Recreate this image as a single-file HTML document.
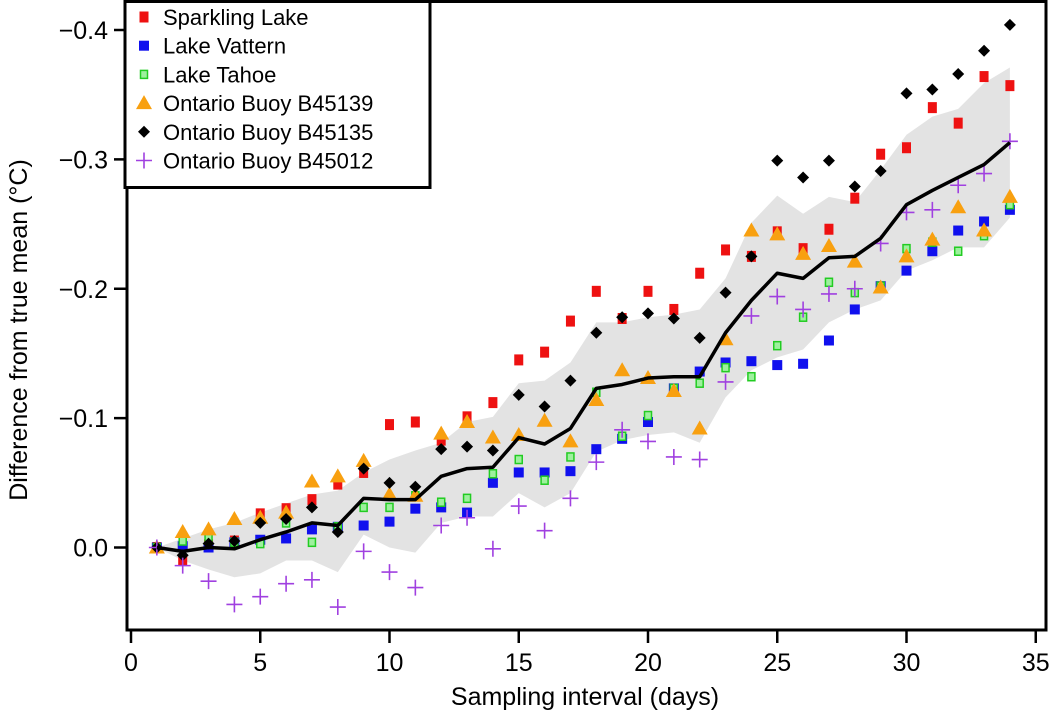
<!DOCTYPE html>
<html><head><meta charset="utf-8"><style>
body{margin:0;background:#fff}
svg{display:block;font-family:"Liberation Sans",sans-serif}
</style></head><body>
<svg id="chart" width="1050" height="721" viewBox="0 0 1050 721" xmlns="http://www.w3.org/2000/svg"></svg>
<script>
const days = Array.from({length:34},(_,i)=>i+1);
const xTicks = [0,5,10,15,20,25,30,35];
const yTicks = [0,-0.1,-0.2,-0.3,-0.4];
const yTickLabels = ["0.0","\u22120.1","\u22120.2","\u22120.3","\u22120.4"];
const sparkling = [0,0.010,-0.002,-0.005,-0.026,-0.030,-0.037,-0.049,-0.058,-0.095,-0.097,-0.083,-0.101,-0.112,-0.145,-0.151,-0.175,-0.198,-0.177,-0.198,-0.184,-0.212,-0.230,-0.225,-0.244,-0.231,-0.246,-0.270,-0.304,-0.309,-0.340,-0.328,-0.364,-0.357];
const vattern = [0,-0.001,0,-0.004,-0.006,-0.007,-0.014,-0.016,-0.017,-0.020,-0.030,-0.031,-0.027,-0.050,-0.058,-0.058,-0.059,-0.076,-0.084,-0.097,-0.123,-0.136,-0.143,-0.144,-0.141,-0.142,-0.160,-0.184,-0.202,-0.214,-0.229,-0.245,-0.252,-0.261];
const tahoe = [0,-0.005,-0.007,-0.004,-0.003,-0.019,-0.004,-0.016,-0.031,-0.031,-0.040,-0.035,-0.038,-0.057,-0.068,-0.052,-0.070,-0.120,-0.086,-0.102,-0.123,-0.127,-0.139,-0.132,-0.156,-0.178,-0.205,-0.197,-0.202,-0.231,-0.236,-0.229,-0.241,-0.265];
const b45139 = [0,-0.012,-0.014,-0.022,-0.023,-0.027,-0.051,-0.055,-0.067,-0.041,-0.040,-0.088,-0.097,-0.085,-0.087,-0.098,-0.082,-0.114,-0.137,-0.131,-0.121,-0.092,-0.161,-0.245,-0.242,-0.227,-0.233,-0.221,-0.201,-0.225,-0.238,-0.263,-0.245,-0.271];
const b45135 = [0,0.006,-0.003,-0.005,-0.019,-0.022,-0.031,-0.012,-0.061,-0.050,-0.047,-0.076,-0.078,-0.075,-0.118,-0.109,-0.129,-0.166,-0.178,-0.181,-0.177,-0.162,-0.197,-0.225,-0.299,-0.286,-0.299,-0.279,-0.291,-0.351,-0.354,-0.366,-0.384,-0.404];
const b45012 = [0,0.014,0.026,0.044,0.038,0.028,0.025,0.046,0.003,0.019,0.031,-0.017,-0.023,0.001,-0.032,-0.013,-0.038,-0.066,-0.091,-0.082,-0.070,-0.068,-0.128,-0.179,-0.194,-0.184,-0.196,-0.200,-0.235,-0.259,-0.261,-0.280,-0.289,-0.314];
const meanLine = [0,0.003,0,0.001,-0.006,-0.012,-0.019,-0.017,-0.038,-0.037,-0.037,-0.055,-0.061,-0.062,-0.085,-0.080,-0.092,-0.123,-0.126,-0.131,-0.132,-0.132,-0.166,-0.191,-0.212,-0.208,-0.224,-0.225,-0.239,-0.265,-0.276,-0.286,-0.296,-0.313];
const bandUpper = [0,-0.007,-0.014,-0.019,-0.027,-0.034,-0.041,-0.044,-0.058,-0.068,-0.075,-0.081,-0.097,-0.101,-0.127,-0.129,-0.143,-0.174,-0.174,-0.178,-0.180,-0.184,-0.208,-0.251,-0.272,-0.258,-0.271,-0.267,-0.292,-0.319,-0.333,-0.339,-0.359,-0.371];
const bandLower = [0,0.010,0.017,0.023,0.020,0.010,0.010,0.019,-0.010,0,0.004,-0.019,-0.024,-0.024,-0.042,-0.031,-0.042,-0.074,-0.083,-0.087,-0.089,-0.081,-0.116,-0.137,-0.147,-0.153,-0.174,-0.184,-0.191,-0.214,-0.222,-0.232,-0.232,-0.255];

const NS="http://www.w3.org/2000/svg";
const svg=document.getElementById('chart');
const X=d=>131+d*25.85;
const Y=v=>547.5+v*1293.75;
function mk(tag,attrs,parent){const e=document.createElementNS(NS,tag);for(const k in attrs)e.setAttribute(k,attrs[k]);(parent||svg).appendChild(e);return e;}

// band
let pts=days.map((d,i)=>X(d)+','+Y(bandUpper[i]));
pts=pts.concat(days.slice().reverse().map((d,j)=>X(d)+','+Y(bandLower[days.length-1-j])));
const band=mk('polygon',{points:pts.join(' '),fill:'#e3e3e3'});



const series=[
 {name:'Sparkling Lake',data:sparkling,type:'rsq',key:'sparkling-lake'},
 {name:'Lake Vattern',data:vattern,type:'bsq',key:'lake-vattern'},
 {name:'Lake Tahoe',data:tahoe,type:'gsq',key:'lake-tahoe'},
 {name:'Ontario Buoy B45139',data:b45139,type:'tri',key:'ontario-buoy-b45139'},
 {name:'Ontario Buoy B45135',data:b45135,type:'dia',key:'ontario-buoy-b45135'},
 {name:'Ontario Buoy B45012',data:b45012,type:'plus',key:'ontario-buoy-b45012'}
];
function marker(type,x,y,g){
 if(type==='rsq')return mk('rect',{x:x-4.5,y:y-5.5,width:9,height:11,fill:'#ee1111'},g);
 if(type==='bsq')return mk('rect',{x:x-5,y:y-5,width:10,height:10,fill:'#1010ee'},g);
 if(type==='gsq'){const r=mk('rect',{x:x-3.5,y:y-4,width:7,height:8,fill:'#9ef09e',stroke:'#22cc22','stroke-width':1.5},g);return r;}
 if(type==='tri')return mk('polygon',{points:`${x},${y-8} ${x+8},${y+6} ${x-8},${y+6}`,fill:'#f8a010'},g);
 if(type==='dia')return mk('polygon',{points:`${x},${y-6} ${x+6},${y} ${x},${y+6} ${x-6},${y}`,fill:'#000'},g);
 return mk('path',{d:`M${x-8},${y}H${x+8}M${x},${y-8}V${y+8}`,stroke:'#a040e0','stroke-width':1.6,fill:'none'},g);
}
series.forEach(s=>{
 const g=mk('g',{});
 
 
 s.data.forEach((v,i)=>{const m=marker(s.type,X(days[i]),Y(v),g);
  
  });
});
const ml=mk('polyline',{points:days.map((d,i)=>X(d)+','+Y(meanLine[i])).join(' '),fill:'none',stroke:'#000','stroke-width':3.5,'stroke-linejoin':'round'});



// frame
const fr=mk('rect',{x:127,y:1.5,width:919,height:628.5,fill:'none',stroke:'#000','stroke-width':3});


xTicks.forEach(t=>{
 const l=mk('line',{x1:X(t),x2:X(t),y1:630,y2:643,stroke:'#000','stroke-width':2.5});
 
 
 const tx=mk('text',{x:X(t),y:671,'text-anchor':'middle','font-size':25});
 tx.textContent=t;
 
 
});
yTicks.forEach((t,i)=>{
 const l=mk('line',{x1:114,x2:127,y1:Y(t),y2:Y(t),stroke:'#000','stroke-width':2.5});
 
 
 const tx=mk('text',{x:108,y:Y(t)+9,'text-anchor':'end','font-size':25});
 tx.textContent=yTickLabels[i];
 
 
});
const xt=mk('text',{x:585,y:705,'text-anchor':'middle','font-size':25});
xt.textContent='Sampling interval (days)';


const yt=mk('text',{x:0,y:0,'text-anchor':'middle','font-size':25,transform:'translate(27,330) rotate(-90)'});
yt.textContent='Difference from true mean (\u00B0C)';



// legend
const lg=mk('g',{});


mk('rect',{x:125,y:1.5,width:305,height:186,fill:'#fff',stroke:'#000','stroke-width':3},lg);
series.forEach((s,i)=>{
 const y=17+i*28.7;
 const e=mk('g',{},lg);
 
 
 marker(s.type,144,y,e);
 const t=mk('text',{x:163,y:y+8,'font-size':22},e);
 t.textContent=s.name;
});
</script>
</body></html>
